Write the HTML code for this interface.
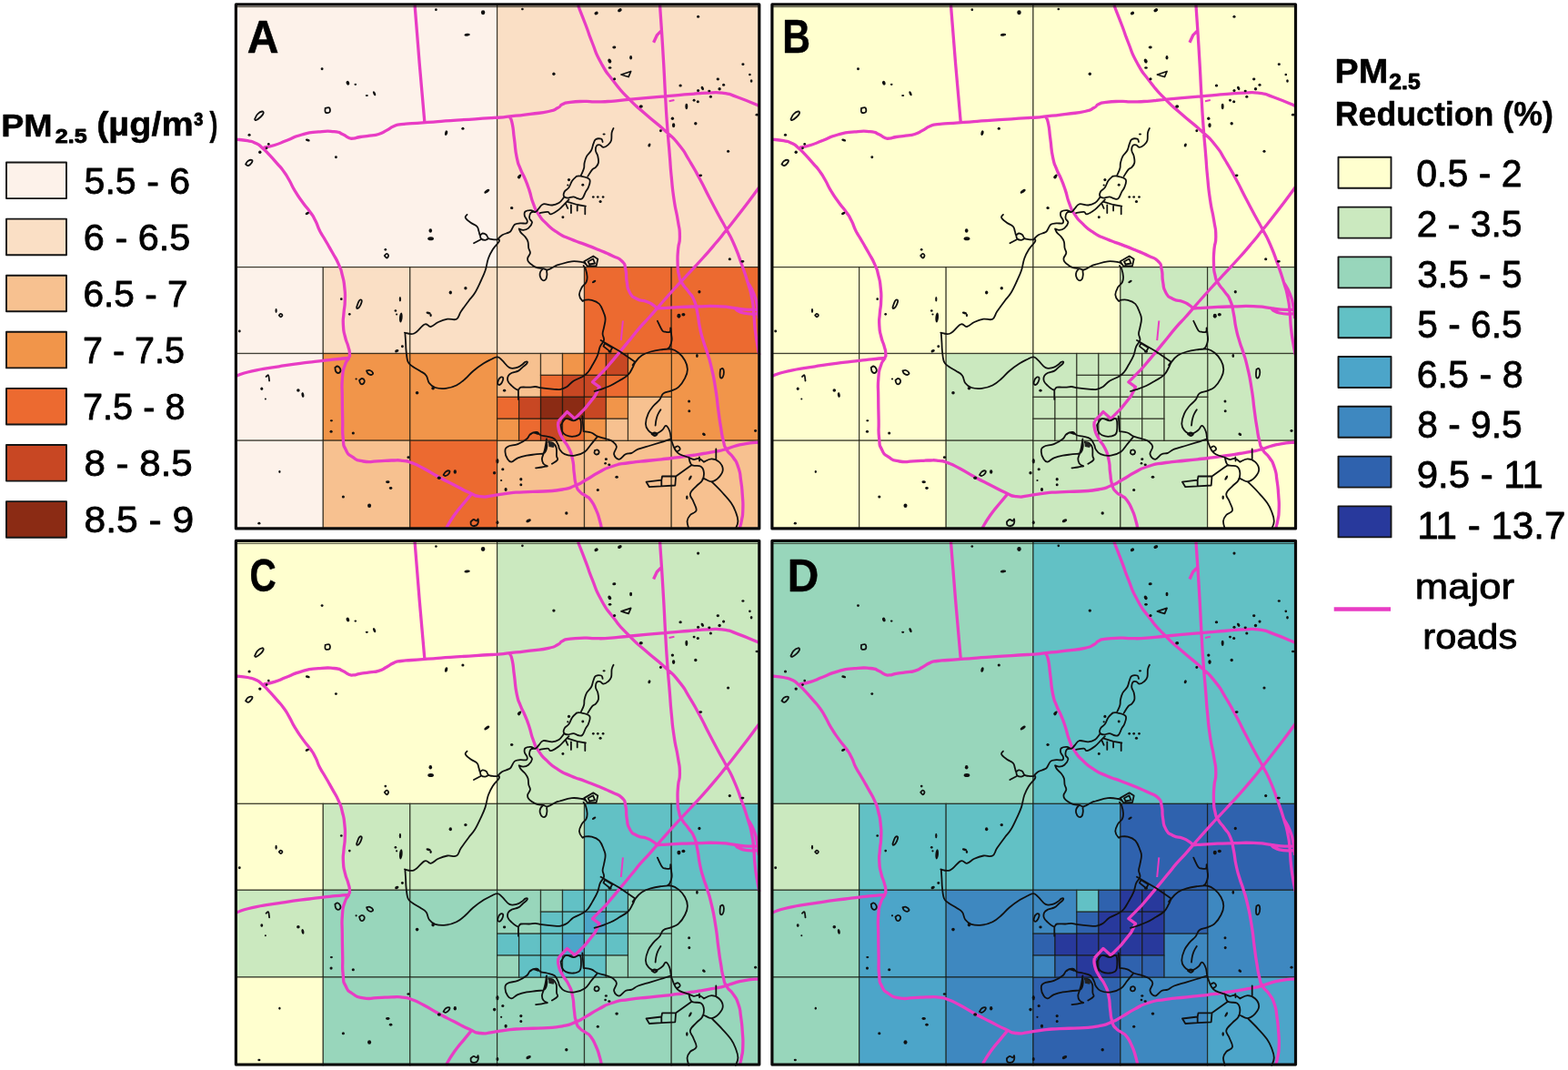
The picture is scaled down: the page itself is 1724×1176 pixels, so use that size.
<!DOCTYPE html>
<html lang="en"><head><meta charset="utf-8"><title>PM2.5 maps</title><style>
html,body{margin:0;padding:0;background:#fff;}
body{width:1724px;height:1176px;overflow:hidden;}
svg{display:block;}
text{font-family:"Liberation Sans",sans-serif;fill:#000;}
</style></head><body>
<svg width="1724" height="1176" viewBox="0 0 1724 1176" role="img" aria-label="PM2.5 concentration and reduction maps">
<defs>
<g id="map">
<path d="M1325 111.2L1330.8 110M1274.3 352.5L1272.2 374.2" fill="none" stroke="#e83cc4" stroke-width="2"/>
<path d="M879.3 162C883.3 161.2 882.8 162.1 891.3 159.5C899.9 156.9 895 158 905 154.2C915 150.3 909.8 151.1 921.3 148C932.9 144.9 927.9 146 939.6 144.9C951.4 143.8 947.9 143.9 956.6 144.7C965.4 145.5 960.8 145.2 966 147.4C971.2 149.6 968.4 149.6 972.4 151.2C976.4 152.7 973.7 152.3 978 152.1C982.3 151.9 979.4 151.5 985.3 150.5C991.2 149.5 988.9 150.1 995.7 149.1C1002.4 148.1 999.4 149.4 1005.7 147.5C1011.9 145.6 1008.8 146.4 1014.3 143.4C1019.9 140.5 1016.9 141 1022.3 138.8C1027.7 136.5 1023.9 137.7 1030.5 136.7C1037.2 135.7 1032.6 136.5 1042.3 135.7C1052.1 135 1043.4 135.6 1059.8 134.4C1076.1 133.2 1068 133.6 1091.3 132.1C1114.6 130.5 1109.3 131.1 1129.6 129.7C1150 128.2 1138.1 129.1 1152.3 127.6C1166.5 126.2 1158.9 127 1172.3 125.3C1185.7 123.6 1182.5 124.7 1192.6 122.5C1202.8 120.2 1197.5 121.2 1202.7 118.6C1207.8 116 1203.5 116.7 1208 114.6C1212.5 112.5 1208.3 113.4 1216.2 112.4C1224.1 111.3 1222.5 111.6 1231.7 111.4C1240.9 111.2 1235.1 111.7 1243.8 111.8C1252.4 111.8 1244.6 112.3 1257.7 111.5C1270.7 110.7 1263.1 111.1 1283 109.2C1302.9 107.4 1296.4 107.9 1317.3 106.1C1338.2 104.2 1328.9 105 1345.7 103.7C1362.5 102.4 1354.5 102.5 1367.7 102.1C1380.8 101.7 1374.2 100.9 1385 102.4C1395.9 104 1387.2 102.1 1400.2 106.8C1413.2 111.5 1416.1 113.2 1424 116.4M849 153.2C853.2 153.7 854.4 153.3 861.6 154.7C868.8 156.2 865.2 154.9 870.7 157.5C876.1 160.1 872.9 158.3 878 162.7C883.1 167 880.7 165 886 170.6C891.3 176.3 889 173.9 894 179.6C899 185.4 896.5 181.7 901 187.9C905.5 194 903.1 190.7 907.4 198C911.6 205.3 908.7 201.5 913.7 209.8C918.7 218.1 916.8 215 922.4 222.8C928 230.6 925.8 226.5 930.5 233.2C935.2 239.8 932.8 236 936.3 242.8C939.8 249.6 937.3 246.4 941 253.7C944.8 260.9 943 256.8 947.5 264.7C952.1 272.5 949.9 268.8 954.7 277.3C959.4 285.9 958 281.9 961.7 290.3C965.4 298.8 963.7 294.1 965.8 302.7C968 311.2 967.2 306.8 968.2 316C969.1 325.3 969 321 968.7 330.4C968.5 339.7 968.1 335 967.4 344C966.8 353 966.3 348.6 966.8 357.3C967.2 366 967 362.3 968.8 370C970.6 377.8 970.5 374.3 972.2 380.6C973.8 386.8 973.7 384.3 973.8 388.7C973.9 393.2 974.3 389.6 972.5 394C970.7 398.4 970.6 394.7 968.4 402.1C966.1 409.4 966.7 404.4 965.8 416C964.9 427.5 965.6 421.8 965.7 436.7C965.8 451.6 965.8 445.7 966.1 460.7C966.4 475.7 965.4 470.5 966.6 481.6C967.7 492.7 966.1 487.1 969.5 494C972.9 500.8 970.4 497.8 976.8 502.2C983.2 506.5 979.5 505.4 988.7 507C997.8 508.6 993.9 507.3 1004.3 506.9C1014.8 506.6 1010.7 506.2 1020 506C1029.3 505.8 1024.7 505.4 1032.2 506.3C1039.8 507.3 1034.9 506 1042.7 508.9C1050.4 511.8 1045.9 510 1055.5 515C1065 520.1 1060.3 518 1071.3 524C1082.4 530 1077.2 527.2 1088.7 533C1100.1 538.9 1096.1 537.3 1105.7 541.5C1115.2 545.7 1109.1 544.6 1117.3 545.7C1125.5 546.8 1120.7 546 1130.3 544.8C1140 543.7 1134.9 543.6 1146.3 542.3C1157.8 540.9 1151 541.6 1164.7 540.8C1178.3 540.1 1173 540.9 1187.3 540C1201.7 539 1196.3 540 1207.7 538C1219.1 536 1212.7 537.4 1221.5 533.8C1230.3 530.3 1225.3 532.2 1234 527.3C1242.7 522.5 1237.7 524.4 1247.5 519.3C1257.3 514.3 1251.9 515.8 1263.3 512.2C1274.7 508.6 1267.8 510.6 1281.7 508.5C1295.6 506.4 1289.4 507.7 1305 506C1320.6 504.3 1314.4 505.2 1328.3 503.5C1342.2 501.8 1335.2 502.7 1346.7 501C1358.1 499.3 1352.9 500.1 1362.7 498.5C1372.4 496.9 1368 497.7 1376 496.2C1384 494.6 1379.8 495.7 1386.7 493.8C1393.6 491.9 1389.5 492.5 1396.7 490.5C1403.9 488.5 1399.1 489.4 1408.2 487.9C1417.3 486.4 1418.7 486.6 1424 486M1045.5 6L1050.5 68.7L1056.3 134.8M1149.7 128.3C1150.7 131 1151 128 1152.7 136.3C1154.4 144.5 1153.2 140.9 1154.9 153C1156.5 165.1 1155.3 161.8 1157.5 172.6C1159.8 183.5 1158.6 177.6 1161.6 185.6C1164.7 193.7 1163.5 189 1166.7 196.7C1169.9 204.5 1168.2 199.8 1171.3 208.9C1174.3 217.9 1172.3 214.9 1175.8 223.8C1179.2 232.7 1176.6 228.1 1181.6 235.5C1186.5 243 1183.7 239.4 1190.6 246.1C1197.6 252.8 1193.4 249.9 1202.4 255.6C1211.3 261.3 1207.2 258.7 1217.5 263.1C1227.7 267.5 1223.2 265.1 1233.2 268.9C1243.2 272.7 1237.8 270.5 1247.5 274.5C1257.2 278.5 1253.8 276.8 1262.3 281C1270.9 285.2 1268.2 282.1 1273.2 287C1278.1 291.9 1275.3 288.3 1277.2 295.8C1279 303.4 1277.1 301.1 1278.6 309.7C1280.2 318.2 1278.2 315.2 1281.8 321.5C1285.4 327.7 1283.3 325.1 1289.5 328.5C1295.7 331.8 1294.3 329.2 1300.3 331.5C1306.4 333.8 1303.9 332.9 1307.7 335.4C1311.4 337.9 1310.4 337.8 1311.7 339M1225 6C1227.8 13.2 1228.2 13.8 1233.4 27.5C1238.6 41.1 1235 33.1 1240.6 47C1246.2 60.8 1242.5 55 1250.2 69C1257.9 83 1253.9 76.1 1263.8 89C1273.8 101.9 1268.4 95.7 1280 107.7C1291.6 119.7 1285.1 113 1298.7 125C1312.2 137 1308.2 132.2 1320.7 143.7C1333.1 155.1 1327.1 148.4 1336 159.3C1344.9 170.3 1339.7 164 1347.4 176.5C1355 189.1 1351.8 183.7 1359 197C1366.2 210.3 1362.2 203.5 1369 216.5C1375.8 229.5 1372.9 224 1379.3 236C1385.8 247.9 1382.5 241.3 1388.3 252.3C1394.1 263.3 1391.2 256.4 1396.7 269C1402.1 281.6 1399.8 276.3 1404.7 290C1409.6 303.7 1407.6 297.6 1411.4 310C1415.1 322.5 1413.8 316 1416 327.3C1418.3 338.6 1417 332.9 1418.2 344C1419.3 355.1 1418.3 349.8 1419.5 360.7C1420.7 371.5 1420.1 366.7 1421.7 376.5C1423.3 386.3 1423.4 385.5 1424.2 390M1411.7 310.7C1413.9 314.8 1414.8 314.1 1418.2 322.9C1421.7 331.8 1420.2 328.2 1422 337.2C1423.8 346.2 1423 345.7 1423.5 350M1315 6C1315.6 15.4 1315.5 13.2 1316.9 34.1C1318.2 55 1317.6 44.7 1319 68.7C1320.4 92.6 1319.6 81.5 1321 106C1322.4 130.4 1321.7 120.8 1323.3 142C1324.9 163.1 1324.2 151.8 1325.6 169.5C1327.1 187.2 1326 178.5 1327.7 195.1C1329.3 211.8 1328.2 203.7 1330.5 219.4C1332.8 235.1 1332.6 228.9 1334.7 242.3C1336.8 255.8 1336.7 249.2 1336.8 259.7C1336.9 270.1 1335.8 263.7 1335 273.7C1334.3 283.7 1334.2 280 1334.5 289.7C1334.8 299.4 1334.3 295.5 1336 302.7C1337.6 309.9 1336 305.5 1339.5 311.4C1342.9 317.3 1341.9 314 1346.3 320.4C1350.7 326.7 1349.3 322.3 1352.7 330.3C1356 338.3 1354.2 334.2 1356.3 344.3C1358.4 354.5 1356.8 350.2 1359 360.7C1361.2 371.1 1360.3 366.7 1363 375.7C1365.7 384.7 1364.1 378.1 1367 387.6C1369.9 397.1 1368.6 391 1371.7 404.4C1374.8 417.7 1373.7 412.1 1376.2 427.7C1378.7 443.3 1377.3 437.1 1379.2 451C1381.1 464.9 1380 458.2 1381.9 469.3C1383.7 480.4 1382.5 476 1384.7 484.3C1386.8 492.7 1384.7 488.1 1388.4 494.3C1392 500.6 1391.4 496.6 1395.7 503C1400 509.5 1398.4 505.4 1401.2 513.7C1404 522 1402.5 517.8 1404 528C1405.5 538.2 1404.9 533.7 1405.7 544.3C1406.4 555 1406.5 550.8 1406.2 560C1405.9 569.2 1406.1 565 1404.8 572C1403.6 579 1403.3 578 1402.5 581M1316.7 33.7L1311.7 38.7L1308 46.7M1311.7 339C1318.2 338.6 1316.9 338.5 1331.3 337.8C1345.8 337.1 1339.3 337.3 1355 336.9C1370.7 336.5 1364.9 336.2 1378.3 336.6C1391.8 337.1 1385.4 337.1 1395.4 338.3C1405.3 339.4 1398.6 339.4 1408.2 340.1C1417.7 340.8 1418.7 340.2 1424 340.3M1396.7 338.2C1400 340.1 1397.6 341.8 1406.7 344C1415.8 346.2 1418.2 344.5 1424 344.8M1424.2 205.7C1420.2 211.1 1420.8 210.6 1412.2 222C1403.5 233.4 1406.5 229.6 1398.3 240C1390.2 250.4 1395 244.2 1387.7 253.3C1380.3 262.4 1384.7 257.4 1376.3 267.3C1368 277.2 1372 272.5 1362.7 283C1353.3 293.4 1356.9 289.4 1348.3 298.7C1339.8 307.9 1345.1 301.9 1337 310.7C1328.9 319.5 1332.2 315.8 1324 325C1315.8 334.2 1319.3 330.3 1312.3 338.3C1305.3 346.3 1309.3 342 1303 349C1296.7 356 1300.1 351.7 1293.4 359.4C1286.8 367.1 1291 362.5 1283.1 372C1275.2 381.6 1279.2 376.8 1269.8 388.1C1260.4 399.4 1259.8 400 1254.8 405.9M1254.8 405.9L1240.9 419.9L1248.5 425.4L1243.6 435.2L1232.5 449.1L1221.4 460.2L1213 452.6L1203.3 463M1203.3 463C1203.4 466 1202.1 465.5 1203.7 471.9C1205.3 478.4 1204.5 475.3 1208.2 482.2C1211.9 489.2 1211.3 485.2 1214.9 492.8C1218.5 500.5 1217 496.3 1219 505.2C1220.9 514.1 1219.4 510.3 1220.6 519.4C1221.9 528.5 1220.6 525.6 1222.7 532.6C1224.8 539.7 1223.5 536.4 1227 540.5C1230.6 544.6 1229.4 541.9 1233.3 544.9C1237.2 547.9 1235.1 544.6 1238.8 549.5C1242.5 554.5 1241.2 552.3 1244.5 559.7C1247.8 567 1246.6 564.6 1248.7 571.7C1250.8 578.8 1250.1 577.9 1250.8 581M849 413.3C854.9 411.5 851 411.3 866.6 407.8C882.3 404.3 875.1 406 896 402.8C916.9 399.6 908.5 400.8 929.3 398.2C950.1 395.6 943.3 396.4 958.3 394.9C973.3 393.3 969 394 974.3 393.5M1108 542.7C1105.3 545.9 1106.3 544.6 1100 552.3C1093.6 560.1 1095.8 556.4 1089 566C1082.2 575.6 1082.8 576 1079.7 581" fill="none" stroke="#e83cc4" stroke-width="3.3" stroke-linejoin="round" stroke-linecap="butt"/>
<path d="M1160.1 251.5C1161 251.8 1162.8 253 1164.8 252.9C1166.8 252.8 1168.4 252.5 1170.3 250.9C1172.2 249.3 1174.1 246.9 1174.4 244.7C1174.7 242.5 1171.9 242.2 1171.6 240C1171.3 237.8 1171.7 235.2 1173 233.8C1174.3 232.4 1177 233.2 1178 233M1034.3 365.7C1036.4 365.9 1040.3 368.3 1044.7 366.5C1049.1 364.7 1052.6 358 1056.3 356.5C1060 355 1060 359.5 1063 359C1066 358.5 1067.6 355.7 1071.3 354C1075 352.3 1077.3 351.4 1081.3 350.7C1085.3 350 1088.3 352.4 1091.3 350.7C1094.3 349 1093.6 346.3 1096.3 342.3C1099 338.3 1101.7 334.7 1104.7 330.7C1107.7 326.7 1108.6 326.6 1111.3 322.3C1114 318 1115.7 314 1118 309C1120.3 304 1121.3 302.3 1123 297.3C1124.7 292.3 1124.6 288.7 1126.3 284C1128 279.3 1129 277.7 1131.3 274C1133.6 270.3 1136.8 268 1138 265.7C1139.2 263.4 1137.6 263 1137.5 262.3M1034.8 366C1034.9 368.2 1035.3 373 1035.5 377C1035.7 381 1035.5 381.9 1036 386C1036.5 390.1 1036.6 394.4 1038 397.7C1039.4 401 1040.3 400.7 1043 402.7C1045.7 404.7 1048.3 405.7 1051.3 407.7C1054.3 409.7 1056 410 1058 412.7C1060 415.4 1059.3 418.3 1061.3 421C1063.3 423.7 1064.3 424.8 1068 426C1071.7 427.2 1075 427.3 1079.7 426.8C1084.4 426.3 1087 425.7 1091.3 423.5C1095.6 421.3 1097.6 419.2 1101.3 416C1105 412.8 1105.7 411 1109.7 407.7C1113.7 404.4 1117.4 401.8 1121.3 399.3C1125.2 396.8 1126.4 396.4 1129.4 395C1132.4 393.6 1133.9 392 1136.4 392.3C1138.9 392.6 1139.3 394 1141.9 396.4C1144.5 398.8 1146.5 402.6 1149.6 404.1C1152.7 405.6 1154.6 404.7 1157.2 404.1C1159.8 403.5 1160.8 402.6 1162.8 401.3C1164.8 400 1165.7 398.5 1167 397.8C1168.3 397.1 1168.8 397.2 1169.1 397.6C1169.4 398 1169.4 398.7 1168.4 399.9C1167.4 401.1 1166 401.9 1164.2 403.4C1162.4 404.9 1161.7 406.3 1159.3 407.6C1156.9 408.9 1154.6 408.6 1152.4 409.7C1150.2 410.8 1149.1 411.3 1148.2 413.1C1147.3 414.9 1147.1 416.6 1147.8 418.7C1148.5 420.8 1149.5 421.6 1151.7 423.6C1153.9 425.6 1156.5 428.1 1158.6 428.5C1160.7 428.9 1159.6 426.3 1162.1 425.7C1164.6 425.1 1168 425.8 1171.2 425.7C1174.4 425.6 1175.3 424.9 1178.1 425C1180.9 425.1 1180.9 425.8 1185.1 426.4C1189.3 427 1194.8 427.5 1199 427.8C1203.2 428.1 1203.1 428.4 1205.9 427.8C1208.7 427.2 1210.1 426.8 1212.9 425C1215.7 423.2 1216.4 420.9 1219.9 418.7C1223.4 416.5 1227.1 415.7 1230.3 413.8C1233.5 411.9 1233.8 411.5 1235.9 409C1238 406.5 1238.6 404.9 1240.7 401.3C1242.8 397.7 1244.6 395 1246.3 390.9C1248 386.8 1247.8 384.3 1249.2 380.9C1250.6 377.5 1252.8 376.7 1253.4 373.9C1254 371.1 1252 369.8 1252 367C1252 364.2 1252.8 363.3 1253.4 360C1254 356.7 1255 353.9 1255 350.7C1255 347.5 1254.6 347.3 1253.3 344C1252 340.7 1251 336.8 1248.3 334C1245.6 331.2 1243.3 330.6 1240 329.8C1236.7 329 1234.1 329.6 1232 329.8C1229.9 330 1230.8 331.9 1229.7 330.7C1228.6 329.5 1226.4 326.9 1226.3 324C1226.2 321.1 1227.5 318.8 1229 316C1230.5 313.2 1232.8 312.4 1234 310C1235.2 307.6 1235.1 306.9 1235 304C1234.9 301.1 1234.1 298.1 1233.3 295.7C1232.5 293.3 1231.5 292.7 1231 292M1159.3 428.5L1159.3 438.9M1136.3 263.5C1135.2 263.4 1132.8 263.4 1130.8 263.1C1128.8 262.8 1127.9 263 1126.5 262C1125.1 261 1125.3 259.1 1124 258C1122.7 256.9 1121.4 256.4 1120 256.5C1118.6 256.6 1118 258.7 1117.2 258.3C1116.4 257.9 1116.6 256.2 1115.9 254.3C1115.2 252.4 1115.6 250.7 1113.8 248.8C1112 246.9 1109.5 246.6 1107 244.7C1104.5 242.8 1102 241.1 1101.2 239.3C1100.4 237.5 1102.6 236.6 1102.9 235.9M1117.5 263.5L1110.4 267.2M1117.2 258.3C1117.5 259.1 1117.3 261.4 1118.5 262.5C1119.7 263.6 1121.4 263.9 1123 263.8C1124.6 263.7 1125.8 262.4 1126.5 262M1136.3 263.1C1137.4 262.1 1139.3 259.8 1141.7 258.3C1144.1 256.8 1146.6 256.5 1148.5 255.6C1150.4 254.7 1149.8 255.4 1151.2 253.6C1152.6 251.8 1153.3 248.4 1155.3 246.8C1157.3 245.2 1158.8 245.7 1161.4 245.4C1164 245.1 1166.7 246.1 1168.2 245.4C1169.7 244.7 1169.3 243.6 1168.9 242C1168.5 240.4 1166.6 239.1 1166.2 237.2C1165.8 235.3 1165.5 233.7 1166.9 232.5C1168.3 231.3 1170.7 231 1173 231.1C1175.3 231.2 1176.4 233.3 1178.2 232.9C1180 232.5 1180.1 230.9 1181.8 229.2C1183.5 227.5 1183.8 225 1186.7 224.3C1189.6 223.6 1193.1 225.7 1196.5 225.5C1199.9 225.3 1201.3 224.8 1203.9 223.1C1206.5 221.4 1208.3 218.1 1209.4 216.9M1183.1 234.1C1184.8 233.9 1189.2 232.7 1191.6 232.9C1194 233.1 1192.8 235.8 1195.3 235.3C1197.8 234.8 1201 232.6 1203.9 230.4C1206.8 228.2 1207.8 226.5 1210 224.3C1212.2 222.1 1213.9 220.4 1214.9 219.4M1160.1 251.5C1160.5 252.3 1160.7 253.8 1162.1 255.6C1163.5 257.4 1165.3 258.4 1166.9 260.4C1168.5 262.4 1169.2 263.4 1169.9 265.8C1170.6 268.2 1170.1 270.1 1170.6 272.6C1171.1 275.1 1172.5 275.9 1172.3 278.1C1172.1 280.3 1170 281.6 1169.6 283.5C1169.2 285.4 1169.2 286 1170.3 287.6C1171.4 289.2 1173 290.3 1175 291.7C1177 293.1 1178.2 293.7 1180.5 294.4C1182.8 295.1 1184.3 294.7 1186.6 295.1C1188.9 295.5 1189.3 297 1192 296.4C1194.7 295.8 1197.5 293.4 1200 292.3C1202.5 291.2 1201.1 291.7 1204.7 290.7C1208.3 289.7 1213 287.8 1218 287.3C1223 286.8 1226.7 287.7 1229.7 288.2C1232.7 288.7 1232.3 289.6 1233 290M1186.6 295.1C1186 295.9 1184.2 297.2 1183.5 299C1182.8 300.8 1182.8 302.2 1183.3 304C1183.8 305.8 1184.8 307.4 1186 308C1187.2 308.6 1188.5 308.2 1189.5 307C1190.5 305.8 1190.6 303.9 1190.8 302C1191 300.1 1190.3 298.6 1190.5 297.5C1190.7 296.4 1191.7 296.6 1192 296.4M1223.5 193.7C1224.5 193.7 1225.6 193 1228.4 193.7C1231.2 194.4 1236 194.9 1237.6 197.3C1239.2 199.7 1237.2 203.2 1236.3 205.9C1235.4 208.6 1234.6 208.3 1233.3 210.8C1232 213.3 1231.3 216.7 1229.6 218.2C1227.9 219.7 1226.7 218.6 1224.7 218.2C1222.7 217.8 1222 216.4 1219.8 216.3C1217.6 216.2 1215.8 217.7 1213.7 217.6C1211.6 217.5 1210.1 217.1 1209.4 215.7C1208.7 214.3 1208.9 212.8 1210 210.8C1211.1 208.8 1213.2 208.3 1214.9 205.9C1216.6 203.5 1216.9 201 1218.6 198.6C1220.3 196.2 1222.5 194.7 1223.5 193.7M1235.7 193.7C1236.7 192.2 1238.9 188.3 1240.6 186.3C1242.3 184.3 1243 185.4 1244.3 183.9C1245.6 182.4 1246.8 181.5 1247.3 179C1247.8 176.5 1247.3 174.3 1246.7 171.6C1246.1 168.9 1244.5 167.8 1244.3 165.5C1244.1 163.2 1244.5 161.2 1245.5 160C1246.5 158.8 1247.7 159 1249.2 159.4C1250.7 159.8 1251.2 161.8 1252.9 161.8C1254.6 161.8 1256.1 160.9 1257.8 159.4C1259.5 157.9 1260.6 157.2 1261.4 154.5C1262.2 151.8 1261.5 148.6 1262 145.9C1262.5 143.2 1263.5 142 1263.9 141M1228.4 192.4C1229 190.9 1230.7 187.8 1231.4 185.1C1232.1 182.4 1231.4 181.7 1232 179C1232.6 176.3 1233 174.3 1234.5 171.6C1236 168.9 1237.9 168.2 1239.4 165.5C1240.9 162.8 1240.8 160.6 1241.8 158.2C1242.8 155.8 1242.6 154.4 1244.3 153.3C1246 152.2 1248.9 152.2 1250.4 152.7C1251.9 153.2 1251.7 155.3 1252 156M1213.7 221.8L1224 225L1233.3 226.7M1211.5 224L1213.7 229M1217.3 225.5L1217.3 234.1M1224.1 226.7L1224.1 231.6M1232.7 226.7L1232.7 235.3M1231.7 287.3L1241.7 281.5L1246.7 284.8L1245 292.3L1235 292.3L1231.7 287.3M1236 287.5L1241.5 284.5L1243.5 289.5L1237.5 290.5L1236 287.5M1254.4 377.2L1262.6 382.2L1260.2 386.4L1252.9 380.6L1254.4 377.2M1250 374L1270.6 386L1287.6 397.8M1287.6 397.8L1285 401.2M1243 430C1244.2 429.6 1245.7 429.4 1249.2 428.2C1252.7 427 1256.1 425.9 1260.3 424C1264.5 422.1 1266.2 420.9 1270.1 418.5C1274 416.1 1276.8 415.1 1279.8 412.2C1282.8 409.3 1283.3 406.9 1285 404C1286.7 401.1 1286.2 400.3 1288.2 397.6C1290.2 394.9 1291.9 392.8 1295.2 390.6C1298.5 388.4 1300.7 387.7 1304.9 386.5C1309.1 385.3 1311.5 385 1316 384.4C1320.5 383.8 1323.3 383 1327.2 383.7C1331.1 384.4 1332.4 385.3 1335.5 387.8C1338.6 390.3 1340.5 392.6 1342.5 396.2C1344.5 399.8 1345.3 402 1345.3 405.9C1345.3 409.8 1344.5 411.8 1342.5 415.7C1340.5 419.6 1338.6 422.6 1335.5 425.4C1332.4 428.2 1330.5 428.2 1327.2 429.6C1323.9 431 1321.3 430.4 1318.8 432.4C1316.3 434.4 1316.8 436.6 1314.6 439.4C1312.4 442.2 1310.2 443.2 1307.7 446.3C1305.2 449.4 1303.8 450.8 1302.1 454.7C1300.4 458.6 1299.3 462.2 1299.3 465.8C1299.3 469.4 1300.1 470.6 1302.1 472.8C1304.1 475 1306 476.9 1309.1 476.9C1312.2 476.9 1314.9 474.6 1317.4 472.8C1319.9 471 1319.9 467.6 1321.6 467.9C1323.3 468.2 1324.7 471.3 1325.8 474.2C1326.9 477.1 1326.7 480.1 1327.2 482.5C1327.7 484.9 1327.4 483.6 1328.3 486C1329.2 488.4 1330 491.6 1331.7 494.3C1333.4 497 1333.7 497.6 1336.7 499.3C1339.7 501 1344.7 502 1346.7 502.7M1312.3 352.8C1313.3 354.8 1315.7 360.6 1317.4 363C1319.1 365.4 1319.1 364.4 1320.8 364.7C1322.5 365 1324.7 365.6 1325.9 364.7C1327.1 363.8 1326.4 359.7 1326.7 360.4C1327 361.1 1327.3 365.3 1327.6 368C1327.9 370.7 1328.3 371.4 1328 374C1327.7 376.6 1326.8 378.9 1325.9 380.8C1325 382.7 1323.8 382.9 1323.3 383.4M1315.8 450.2C1315.1 451.4 1313.5 453.7 1312.5 456C1311.5 458.3 1311.3 459.5 1310.8 461.8C1310.3 464.1 1310.2 466.5 1310 467.7M1306 477C1306.6 476.7 1308 475.5 1309.2 475.5C1310.4 475.5 1312 476.3 1312 477C1312 477.7 1310.4 479 1309.2 479C1308 479 1306.6 477.4 1306 477M1206.1 467.2C1207.2 465.8 1208.8 461.2 1211.6 460.2C1214.4 459.2 1216.9 462.3 1220 462.3C1223.1 462.3 1225.2 458.9 1226.9 460.2C1228.6 461.5 1228.3 465.3 1228.3 468.6C1228.3 471.9 1228.6 474.7 1226.9 476.9C1225.2 479.1 1223.1 479.4 1220 479.7C1216.9 480 1214.1 479.4 1211.6 478.3C1209.1 477.2 1208.6 476.4 1207.5 474.2C1206.4 472 1206.4 468.6 1206.1 467.2M1229.7 457.5L1230.4 466L1231.1 474.2M1231.1 474.2C1232.8 474.5 1236.4 474.4 1239.5 475.5C1242.6 476.6 1243.1 478.3 1246.4 479.7C1249.7 481.1 1252.9 481.4 1256.2 482.5C1259.5 483.6 1260.9 483.6 1263.1 485.3C1265.3 487 1267 488.1 1267.3 490.9C1267.6 493.7 1263.9 496.4 1264.5 499.2C1265.1 502 1267.6 504.8 1270.1 504.8C1272.6 504.8 1274.3 500.6 1277.1 499.2C1279.9 497.8 1281.2 498.9 1284 497.8C1286.8 496.7 1286.8 495.4 1291 493.7C1295.2 492 1299.3 491.2 1304.9 489.5C1310.5 487.8 1314.3 486.7 1318.8 485.3C1323.3 483.9 1325.5 483.1 1327.2 482.5M1246.4 479.7C1245 481.4 1242.3 484.8 1239.5 488.1C1236.7 491.4 1236.1 493.9 1232.5 496.4C1228.9 498.9 1225.9 500 1221.4 500.6C1216.9 501.2 1213.5 500.6 1210.2 499.2C1206.9 497.8 1206.1 495.6 1204.7 493.7C1203.3 491.8 1204.4 491.7 1203.3 489.5C1202.2 487.3 1201.6 484.5 1199.1 482.5C1196.6 480.5 1193.8 480.5 1190.7 479.7C1187.6 478.9 1186 479.3 1183.8 478.3C1181.6 477.3 1181.8 475.2 1179.6 474.9C1177.4 474.6 1174.8 475.4 1172.6 476.9C1170.4 478.4 1171.3 480.3 1168.5 482.5C1165.7 484.7 1162.9 486.4 1158.7 488.1C1154.5 489.8 1150.4 489.2 1147.6 490.9C1144.8 492.6 1144.8 493.6 1144.8 496.4C1144.8 499.2 1146.2 502.6 1147.6 504.8C1149 507 1149.6 507.9 1151.8 507.6C1154 507.3 1155.4 504.8 1158.7 503.4C1162 502 1164.3 501.4 1168.5 500.6C1172.7 499.8 1175.7 499.8 1179.6 499.2C1183.5 498.6 1185.8 499.5 1188 497.8C1190.2 496.1 1190.3 493.7 1190.7 490.9C1191.1 488.1 1190.1 485.3 1190 483.9M1190.4 482.5C1190.1 484.5 1189.4 489.5 1188.7 492.7C1188 495.9 1187.7 496.3 1187 498.7C1186.3 501.1 1185.3 502.4 1185.3 504.6C1185.3 506.8 1185.8 508.2 1187 509.7C1188.2 511.2 1190.4 511.8 1191.2 512.3M1178.5 514.4C1179.8 514.2 1182.5 513.9 1185 513.5C1187.5 513.1 1190 512.5 1191.2 512.3M1192.5 486C1193.5 486.2 1195.8 485.8 1197.5 487C1199.2 488.2 1200.2 489.2 1201 492C1201.8 494.8 1201.1 498.5 1201.4 501.2C1201.7 503.9 1203.3 503.8 1202.3 505.5C1201.3 507.2 1197.5 508.9 1196.3 509.7M1172.5 477.5C1173.2 477.1 1174.3 475.6 1176 475.5C1177.7 475.4 1180 476.7 1181 477M1300 529.7L1316.7 527.7L1317.5 523.5L1332.5 523.5L1331.7 533.5L1316.7 534.3L1303.3 535.2L1300 529.7M1316.7 527.7L1316.7 534.3M1332.5 523.5L1350 511M1346.7 502.7C1347.4 504.4 1347.3 509 1350 511C1352.7 513 1357.3 511 1360 512.7C1362.7 514.4 1363 516.3 1363.3 519.3C1363.6 522.3 1363.4 524.7 1361.7 527.7C1360 530.7 1357.7 531.3 1355 534.3C1352.3 537.3 1349 539.4 1348.3 542.7C1347.6 546 1350.4 547.3 1351.7 551C1353 554.7 1355.7 558 1355 561C1354.3 564 1350.3 563.7 1348.3 566C1346.3 568.3 1345.3 569.7 1345 572.7C1344.7 575.7 1346.4 579.3 1346.7 581M1363.3 507.7C1365 507 1368.4 504.3 1371.7 504.3C1375 504.3 1377.5 505.4 1380 507.7C1382.5 510 1384.2 512.7 1384.2 516C1384.2 519.3 1382.5 521.6 1380 524.3C1377.5 527 1375 529 1371.7 529.3C1368.4 529.6 1365.3 526.3 1363.3 526C1361.3 525.7 1362 527.4 1361.7 527.7M1371.7 529.3C1374 531.6 1379 536.3 1383.3 541C1387.6 545.7 1390.3 548.4 1393.3 552.7C1396.3 557 1396.8 558.7 1398.3 562.7C1399.8 566.7 1400.8 569 1400.8 572.7C1400.8 576.4 1398.8 579.3 1398.3 581M1376.7 493.5L1376.7 504.5M1358.3 502.5L1358.5 506.5M1331 492C1331.8 491.7 1333.8 490.1 1335 490.5C1336.2 490.9 1337.4 492.9 1337 494C1336.6 495.1 1334.2 496.4 1333 496C1331.8 495.6 1331.4 492.8 1331 492M1346.7 502.7C1347.8 503.2 1349.7 504.7 1352 505C1354.3 505.3 1355.7 503.5 1358 504C1360.3 504.5 1362.2 507 1363.3 507.7M1138 416.5C1138.5 416.1 1139.6 414.4 1140.5 414.3C1141.4 414.2 1142.5 414.6 1142.6 415.8C1142.7 417 1142 419.1 1141.2 420.5C1140.4 421.9 1139.4 422.9 1138.5 423C1137.6 423.1 1136.7 422.3 1136.6 421C1136.5 419.7 1137.7 417.4 1138 416.5M1381.5 406C1382 405.8 1383.2 404.4 1384 405C1384.8 405.6 1385.3 407.1 1385.3 409C1385.3 410.9 1384.8 413.3 1384 414.5C1383.2 415.7 1382.1 415.8 1381.5 415C1380.9 414.2 1381 412.3 1381 410.5C1381 408.7 1381.4 406.9 1381.5 406M1243.5 495C1244.1 494.9 1245.6 494 1246.5 494.5C1247.4 495 1248.2 496.5 1248 497.5C1247.8 498.5 1246.5 499.4 1245.5 499.5C1244.5 499.6 1243.4 498.9 1243 498C1242.6 497.1 1243.4 495.6 1243.5 495M869.5 131C870.1 129.9 870.9 127.2 872.5 125.5C874.1 123.8 876.2 122.7 877.5 122.5C878.8 122.3 879.3 123.3 879 124.5C878.7 125.7 877.6 127 876 128.5C874.4 130 872.3 131.5 871 132C869.7 132.5 869.8 131.2 869.5 131M859.5 180.5C860 179.8 860.6 177.9 862 177C863.4 176.1 865.7 175.6 866.5 176C867.3 176.4 866.8 177.8 866 179C865.2 180.2 863.8 181.7 862.5 182C861.2 182.3 860.1 180.8 859.5 180.5M947 119C947.9 118.9 950.5 117.6 951.5 118.5C952.5 119.4 952.6 122.3 951.8 123.3C951 124.3 948.3 124.4 947.3 123.5C946.3 122.6 947.1 119.9 947 119M1012.2 281C1012.7 280.6 1013.6 278.8 1014.5 278.8C1015.4 278.8 1016.5 280.1 1016.5 281C1016.5 281.9 1015.4 283.5 1014.5 283.5C1013.6 283.5 1012.7 281.5 1012.2 281M981.5 337.5C982 336.2 983 332.6 984 331C985 329.4 985.9 329.3 986.5 329.5C987.1 329.7 987.4 330.4 987 332C986.6 333.6 985.5 336.1 984.5 337.5C983.5 338.9 982.6 339 982 339C981.4 339 981.6 337.8 981.5 337.5M957.8 404C958.3 403.7 959.4 402.3 960.5 402.5C961.6 402.7 962.7 403.8 963.3 405C963.9 406.2 964 407.5 963.5 408.5C963 409.5 962 410.1 961 410C960 409.9 959.1 409.2 958.5 408C957.9 406.8 957.9 404.8 957.8 404M984.5 418C985.1 417.6 986.2 416 987.3 416C988.4 416 989.7 416.9 990 418C990.3 419.1 989.8 420.7 989 421.5C988.2 422.3 986.9 422.5 986 421.8C985.1 421.1 984.8 418.8 984.5 418M992.5 407.5C993.2 407.4 994.6 406.5 996 407C997.4 407.5 999.2 409 999.5 410C999.8 411 998.6 411.9 997.5 412C996.4 412.1 995 411.4 994 410.5C993 409.6 992.8 408.1 992.5 407.5M1077 522C1077.5 521.3 1078.2 519.4 1079.5 518.5C1080.8 517.6 1082.8 517.1 1083.5 517.5C1084.2 517.9 1083.8 519.4 1083 520.5C1082.2 521.6 1080.7 522.7 1079.5 523C1078.3 523.3 1077.5 522.2 1077 522M1107 573.5C1107.6 573 1108.7 571.2 1110 571C1111.3 570.8 1112.5 572.6 1113.5 572.5C1114.5 572.4 1114.8 569.8 1115 570.5C1115.2 571.2 1115.3 574.5 1114.5 576C1113.7 577.5 1112.4 577.8 1111 578C1109.6 578.2 1108.3 577.9 1107.5 577C1106.7 576.1 1107.1 574.2 1107 573.5M896.2 346.5C896.6 346.2 897.3 344.8 898 344.8C898.7 344.8 899.8 345.8 899.8 346.5C899.8 347.2 898.7 348.3 898 348.3C897.3 348.3 896.6 346.9 896.2 346.5M1272.5 82L1283 78.5L1280.5 84.5L1277 83.5L1272.5 82M882 414C882.5 413.7 883.8 411.6 884.5 412.5C885.2 413.4 885.3 417.3 885.5 418.5" fill="none" stroke="#111" stroke-width="1.8" stroke-linejoin="round" stroke-linecap="round"/>
<path d="M1192.1 484.4L1199.7 488.5L1198 491.9L1192.9 491Z" fill="#222"/>
<g fill="#111"><ellipse cx="943.5" cy="75.8" rx="1.46" ry="1.46"/><ellipse cx="971.8" cy="91.2" rx="1.79" ry="2.46" transform="rotate(-20 971.8 91.2)"/><ellipse cx="980.2" cy="92.8" rx="1.34" ry="1.12"/><ellipse cx="992.7" cy="105" rx="1.57" ry="1.12"/><ellipse cx="1001" cy="102.8" rx="1.34" ry="2.69" transform="rotate(-25 1001 102.8)"/><ellipse cx="863.5" cy="148.2" rx="1.57" ry="1.57"/><ellipse cx="927.7" cy="154" rx="2.46" ry="1.34" transform="rotate(15 927.7 154)"/><ellipse cx="884.7" cy="158.3" rx="1.34" ry="1.34"/><ellipse cx="875.2" cy="167.3" rx="1.68" ry="1.68"/><ellipse cx="882.5" cy="162.8" rx="1.34" ry="1.34"/><ellipse cx="958.8" cy="172.8" rx="1.46" ry="1.46"/><ellipse cx="1068.8" cy="10.7" rx="1.34" ry="1.34"/><ellipse cx="1120.5" cy="13.7" rx="2.24" ry="2.46"/><ellipse cx="1163.8" cy="10" rx="1.34" ry="1.34"/><ellipse cx="1103" cy="38.2" rx="3.14" ry="1.46" transform="rotate(-8 1103 38.2)"/><ellipse cx="1198.3" cy="81.3" rx="1.68" ry="1.68"/><ellipse cx="1098.3" cy="141.2" rx="1.57" ry="1.57"/><ellipse cx="1080" cy="146.2" rx="1.57" ry="2.91" transform="rotate(15 1080 146.2)"/><ellipse cx="1160.5" cy="194.5" rx="1.34" ry="2.24" transform="rotate(30 1160.5 194.5)"/><ellipse cx="1245" cy="14.5" rx="2.24" ry="1.79" transform="rotate(-30 1245 14.5)"/><ellipse cx="1270.8" cy="11.2" rx="2.46" ry="1.79" transform="rotate(-30 1270.8 11.2)"/><ellipse cx="1357" cy="18.3" rx="1.57" ry="1.57"/><ellipse cx="1264.7" cy="52" rx="2.02" ry="1.46" transform="rotate(-10 1264.7 52)"/><ellipse cx="1283" cy="63.3" rx="1.46" ry="2.24"/><ellipse cx="1259.7" cy="67" rx="1.79" ry="2.46" transform="rotate(-30 1259.7 67)"/><ellipse cx="1260" cy="74.5" rx="1.79" ry="1.34"/><ellipse cx="1265" cy="86.7" rx="1.57" ry="1.57"/><ellipse cx="1406.3" cy="70.7" rx="1.57" ry="1.34"/><ellipse cx="1413.8" cy="82" rx="1.34" ry="1.34"/><ellipse cx="1415.5" cy="89" rx="1.34" ry="1.79"/><ellipse cx="1378.7" cy="87" rx="1.68" ry="1.46"/><ellipse cx="1385" cy="93.3" rx="1.57" ry="1.57"/><ellipse cx="1380.5" cy="97.7" rx="1.68" ry="1.68"/><ellipse cx="1337.5" cy="94" rx="1.68" ry="1.57"/><ellipse cx="1357" cy="99.5" rx="1.57" ry="1.57"/><ellipse cx="1361.7" cy="97" rx="1.46" ry="2.24" transform="rotate(-30 1361.7 97)"/><ellipse cx="1369.2" cy="100" rx="1.57" ry="1.34"/><ellipse cx="1370.8" cy="106.2" rx="1.57" ry="1.57"/><ellipse cx="1352.5" cy="110.3" rx="1.46" ry="1.46"/><ellipse cx="1356.7" cy="111.7" rx="1.57" ry="1.57"/><ellipse cx="1344.2" cy="117" rx="1.46" ry="3.14"/><ellipse cx="1294.2" cy="117" rx="2.02" ry="1.68"/><ellipse cx="1328.8" cy="130.3" rx="1.68" ry="1.68"/><ellipse cx="1330" cy="137.8" rx="1.68" ry="2.46"/><ellipse cx="1354.2" cy="135.7" rx="1.68" ry="1.68"/><ellipse cx="1315.8" cy="143.7" rx="1.46" ry="1.46"/><ellipse cx="1303.3" cy="159.5" rx="1.46" ry="2.02" transform="rotate(20 1303.3 159.5)"/><ellipse cx="1390" cy="166.2" rx="1.57" ry="1.57"/><ellipse cx="1421.7" cy="126.2" rx="1.79" ry="1.34"/><ellipse cx="1359.7" cy="192.8" rx="1.79" ry="1.34"/><ellipse cx="927.2" cy="234.5" rx="2.24" ry="1.34" transform="rotate(-25 927.2 234.5)"/><ellipse cx="1013.2" cy="274.3" rx="1.34" ry="1.34"/><ellipse cx="964.7" cy="328.7" rx="1.34" ry="1.34"/><ellipse cx="973.7" cy="345.3" rx="1.34" ry="1.34"/><ellipse cx="893" cy="341.5" rx="1.12" ry="2.46"/><ellipse cx="852.7" cy="364" rx="1.46" ry="1.46"/><ellipse cx="1029.3" cy="328.7" rx="1.12" ry="2.69"/><ellipse cx="1024.3" cy="341.5" rx="1.34" ry="1.34"/><ellipse cx="1025.5" cy="345.5" rx="1.12" ry="1.12"/><ellipse cx="1030.2" cy="349" rx="1.79" ry="5.6" transform="rotate(5 1030.2 349)"/><ellipse cx="1025.7" cy="385.7" rx="2.24" ry="1.57" transform="rotate(-25 1025.7 385.7)"/><ellipse cx="1031.8" cy="380.7" rx="1.46" ry="1.46"/><ellipse cx="1124.7" cy="210.2" rx="3.36" ry="1.57" transform="rotate(-35 1124.7 210.2)"/><ellipse cx="1152.2" cy="228.7" rx="1.57" ry="1.34"/><ellipse cx="1062.7" cy="253.5" rx="1.79" ry="2.24"/><ellipse cx="1063" cy="262.3" rx="3.36" ry="2.02"/><ellipse cx="1208.3" cy="238.7" rx="1.46" ry="1.46"/><ellipse cx="1101.3" cy="316.8" rx="1.68" ry="1.68"/><ellipse cx="1084.7" cy="321.5" rx="1.68" ry="2.02"/><ellipse cx="1060.5" cy="344" rx="2.69" ry="1.34" transform="rotate(15 1060.5 344)"/><ellipse cx="1063" cy="346.5" rx="1.12" ry="1.79"/><ellipse cx="1241.7" cy="216.5" rx="1.34" ry="1.34"/><ellipse cx="1246.7" cy="216.5" rx="1.34" ry="1.34"/><ellipse cx="1252.5" cy="216.5" rx="1.34" ry="1.34"/><ellipse cx="1249.5" cy="221.5" rx="1.57" ry="1.57"/><ellipse cx="1391.7" cy="284.8" rx="1.57" ry="1.57"/><ellipse cx="1405.8" cy="287.3" rx="2.02" ry="1.34"/><ellipse cx="1242.5" cy="309.5" rx="2.46" ry="1.23" transform="rotate(-30 1242.5 309.5)"/><ellipse cx="1358.3" cy="320.7" rx="1.57" ry="1.79"/><ellipse cx="1335.8" cy="347.3" rx="2.02" ry="2.46"/><ellipse cx="1340.8" cy="345.7" rx="2.02" ry="1.79"/><ellipse cx="1160.4" cy="193.7" rx="2.69" ry="1.34" transform="rotate(-40 1160.4 193.7)"/><ellipse cx="1214.9" cy="197.6" rx="1.57" ry="1.57"/><ellipse cx="1230.2" cy="203.2" rx="1.46" ry="1.46"/><ellipse cx="1213.7" cy="203.5" rx="1.12" ry="1.12"/><ellipse cx="1253.5" cy="147.5" rx="1.57" ry="1.12"/><ellipse cx="1151.8" cy="228.6" rx="1.23" ry="1.23"/><ellipse cx="877.2" cy="427.3" rx="1.46" ry="1.79"/><ellipse cx="917.3" cy="429" rx="1.79" ry="1.68"/><ellipse cx="922.3" cy="434" rx="1.46" ry="2.91" transform="rotate(-10 922.3 434)"/><ellipse cx="881.3" cy="438.5" rx="1.01" ry="1.01"/><ellipse cx="953.8" cy="462.3" rx="1.57" ry="1.12"/><ellipse cx="953.5" cy="474.3" rx="1.57" ry="1.57"/><ellipse cx="977.7" cy="476" rx="1.57" ry="1.57"/><ellipse cx="896.8" cy="518.5" rx="1.12" ry="1.46"/><ellipse cx="1015.7" cy="529.7" rx="2.24" ry="1.46"/><ellipse cx="1019" cy="536.5" rx="1.79" ry="1.46"/><ellipse cx="966.8" cy="546" rx="1.57" ry="1.57"/><ellipse cx="995.5" cy="555.7" rx="2.02" ry="2.24"/><ellipse cx="874.3" cy="575.2" rx="1.57" ry="1.34"/><ellipse cx="1038.5" cy="502.7" rx="1.68" ry="1.34"/><ellipse cx="981" cy="416.5" rx="1.12" ry="1.12"/><ellipse cx="1048" cy="431.8" rx="1.79" ry="1.79"/><ellipse cx="1065.5" cy="426.8" rx="1.79" ry="1.79"/><ellipse cx="1072.2" cy="525.2" rx="2.02" ry="1.68"/><ellipse cx="1089.7" cy="518.5" rx="1.68" ry="2.24"/><ellipse cx="1136.3" cy="506.8" rx="1.57" ry="2.69"/><ellipse cx="1133" cy="519.8" rx="1.68" ry="1.79"/><ellipse cx="1142.2" cy="515.7" rx="1.57" ry="1.57"/><ellipse cx="1162.2" cy="526.8" rx="1.57" ry="1.68"/><ellipse cx="1162.2" cy="532.7" rx="1.46" ry="1.57"/><ellipse cx="1145.5" cy="538" rx="1.57" ry="2.02"/><ellipse cx="1212.2" cy="564" rx="1.68" ry="1.79"/><ellipse cx="1170.5" cy="572.3" rx="2.91" ry="1.68" transform="rotate(-25 1170.5 572.3)"/><ellipse cx="1136.3" cy="574.3" rx="1.46" ry="2.02"/><ellipse cx="1144" cy="429.2" rx="1.68" ry="1.46"/><ellipse cx="1355.8" cy="391" rx="1.34" ry="2.02"/><ellipse cx="1347" cy="441" rx="1.46" ry="1.57"/><ellipse cx="1347.2" cy="451.8" rx="1.46" ry="1.57"/><ellipse cx="1363.3" cy="477.3" rx="2.02" ry="1.46" transform="rotate(35 1363.3 477.3)"/><ellipse cx="1420" cy="473.5" rx="1.57" ry="1.46"/><ellipse cx="1255.8" cy="504.7" rx="1.57" ry="1.34"/><ellipse cx="1255" cy="509.3" rx="1.34" ry="1.23"/><ellipse cx="1259.2" cy="510.7" rx="1.57" ry="1.23"/><ellipse cx="1267.5" cy="524.3" rx="1.79" ry="1.57"/><ellipse cx="1246.7" cy="538.5" rx="1.57" ry="1.57"/><ellipse cx="1348.3" cy="525.2" rx="1.23" ry="2.91" transform="rotate(30 1348.3 525.2)"/><ellipse cx="1344.7" cy="546.8" rx="1.23" ry="2.24"/><ellipse cx="1260" cy="386.5" rx="2.02" ry="1.34"/><ellipse cx="1140.5" cy="528" rx="1.12" ry="1.12"/></g>
</g>
</defs>
<rect width="1724" height="1176" fill="#fff"/>
<g transform="translate(-589.4 0)">
<g stroke="#14140a" stroke-opacity="0.7" stroke-width="1.25">
<rect x="848.8" y="5" width="287.2" height="288.6" fill="#fdf2ea"/>
<rect x="1136" y="5" width="288.4" height="288.6" fill="#fadfc5"/>
<rect x="848.8" y="293.6" width="95.9" height="94.9" fill="#fdf2ea"/>
<rect x="944.7" y="293.6" width="95.5" height="94.9" fill="#fadfc5"/>
<rect x="1040.2" y="293.6" width="95.8" height="94.9" fill="#fadfc5"/>
<rect x="1136" y="293.6" width="95.9" height="94.9" fill="#fadfc5"/>
<rect x="1231.9" y="293.6" width="95.7" height="94.9" fill="#ec6a30"/>
<rect x="1327.6" y="293.6" width="96.8" height="94.9" fill="#ec6a30"/>
<rect x="848.8" y="388.5" width="95.9" height="95.7" fill="#fdf2ea"/>
<rect x="944.7" y="388.5" width="95.5" height="95.7" fill="#f1954a"/>
<rect x="1040.2" y="388.5" width="95.8" height="95.7" fill="#f1954a"/>
<rect x="1327.6" y="388.5" width="96.8" height="95.7" fill="#f1954a"/>
<rect x="848.8" y="484.2" width="95.9" height="96.8" fill="#fdf2ea"/>
<rect x="944.7" y="484.2" width="95.5" height="96.8" fill="#f7c190"/>
<rect x="1040.2" y="484.2" width="95.8" height="96.8" fill="#ec6a30"/>
<rect x="1136" y="484.2" width="95.9" height="96.8" fill="#f7c190"/>
<rect x="1231.9" y="484.2" width="95.7" height="96.8" fill="#f7c190"/>
<rect x="1327.6" y="484.2" width="96.8" height="96.8" fill="#f7c190"/>
<rect x="1136" y="388.5" width="47.9" height="47.9" fill="#f7c190"/>
<rect x="1279.8" y="388.5" width="47.9" height="47.9" fill="#f1954a"/>
<rect x="1279.8" y="436.4" width="47.9" height="47.8" fill="#f7c190"/>
<rect x="1183.9" y="388.5" width="24" height="23.9" fill="#f7c190"/>
<rect x="1207.9" y="388.5" width="24" height="23.9" fill="#f1954a"/>
<rect x="1231.8" y="388.5" width="24" height="23.9" fill="#ec6a30"/>
<rect x="1255.8" y="388.5" width="24" height="23.9" fill="#c84723"/>
<rect x="1183.9" y="412.4" width="24" height="23.9" fill="#ec6a30"/>
<rect x="1207.9" y="412.4" width="24" height="23.9" fill="#c84723"/>
<rect x="1231.8" y="412.4" width="24" height="23.9" fill="#c84723"/>
<rect x="1255.8" y="412.4" width="24" height="23.9" fill="#ec6a30"/>
<rect x="1136" y="436.4" width="24" height="23.9" fill="#ec6a30"/>
<rect x="1160" y="436.4" width="24" height="23.9" fill="#c84723"/>
<rect x="1183.9" y="436.4" width="24" height="23.9" fill="#8b2b14"/>
<rect x="1207.9" y="436.4" width="24" height="23.9" fill="#8b2b14"/>
<rect x="1231.8" y="436.4" width="24" height="23.9" fill="#c84723"/>
<rect x="1255.8" y="436.4" width="24" height="23.9" fill="#f1954a"/>
<rect x="1136" y="460.3" width="24" height="23.9" fill="#f1954a"/>
<rect x="1160" y="460.3" width="24" height="23.9" fill="#ec6a30"/>
<rect x="1183.9" y="460.3" width="24" height="23.9" fill="#c84723"/>
<rect x="1207.9" y="460.3" width="24" height="23.9" fill="#ec6a30"/>
<rect x="1231.8" y="460.3" width="24" height="23.9" fill="#f1954a"/>
<rect x="1255.8" y="460.3" width="24" height="23.9" fill="#f7c190"/>
</g>
<use href="#map"/>
<path d="M848.8 7.6H1424.4" stroke="#14140a" stroke-opacity="0.75" stroke-width="1" fill="none"/>
</g>
<rect x="259.4" y="4.9" width="575.4" height="576" fill="none" stroke="#0a0a0a" stroke-width="3.2" stroke-linejoin="round"/>
<g transform="translate(0 0)">
<g stroke="#14140a" stroke-opacity="0.7" stroke-width="1.25">
<rect x="848.8" y="5" width="287.2" height="288.6" fill="#ffffcf"/>
<rect x="1136" y="5" width="288.4" height="288.6" fill="#ffffcf"/>
<rect x="848.8" y="293.6" width="95.9" height="94.9" fill="#ffffcf"/>
<rect x="944.7" y="293.6" width="95.5" height="94.9" fill="#ffffcf"/>
<rect x="1040.2" y="293.6" width="95.8" height="94.9" fill="#ffffcf"/>
<rect x="1136" y="293.6" width="95.9" height="94.9" fill="#ffffcf"/>
<rect x="1231.9" y="293.6" width="95.7" height="94.9" fill="#cbe9bf"/>
<rect x="1327.6" y="293.6" width="96.8" height="94.9" fill="#cbe9bf"/>
<rect x="848.8" y="388.5" width="95.9" height="95.7" fill="#ffffcf"/>
<rect x="944.7" y="388.5" width="95.5" height="95.7" fill="#ffffcf"/>
<rect x="1040.2" y="388.5" width="95.8" height="95.7" fill="#cbe9bf"/>
<rect x="1327.6" y="388.5" width="96.8" height="95.7" fill="#cbe9bf"/>
<rect x="848.8" y="484.2" width="95.9" height="96.8" fill="#ffffcf"/>
<rect x="944.7" y="484.2" width="95.5" height="96.8" fill="#ffffcf"/>
<rect x="1040.2" y="484.2" width="95.8" height="96.8" fill="#cbe9bf"/>
<rect x="1136" y="484.2" width="95.9" height="96.8" fill="#cbe9bf"/>
<rect x="1231.9" y="484.2" width="95.7" height="96.8" fill="#cbe9bf"/>
<rect x="1327.6" y="484.2" width="96.8" height="96.8" fill="#ffffcf"/>
<rect x="1136" y="388.5" width="47.9" height="47.9" fill="#cbe9bf"/>
<rect x="1279.8" y="388.5" width="47.9" height="47.9" fill="#cbe9bf"/>
<rect x="1279.8" y="436.4" width="47.9" height="47.8" fill="#cbe9bf"/>
<rect x="1183.9" y="388.5" width="24" height="23.9" fill="#cbe9bf"/>
<rect x="1207.9" y="388.5" width="24" height="23.9" fill="#cbe9bf"/>
<rect x="1231.8" y="388.5" width="24" height="23.9" fill="#cbe9bf"/>
<rect x="1255.8" y="388.5" width="24" height="23.9" fill="#cbe9bf"/>
<rect x="1183.9" y="412.4" width="24" height="23.9" fill="#cbe9bf"/>
<rect x="1207.9" y="412.4" width="24" height="23.9" fill="#cbe9bf"/>
<rect x="1231.8" y="412.4" width="24" height="23.9" fill="#cbe9bf"/>
<rect x="1255.8" y="412.4" width="24" height="23.9" fill="#cbe9bf"/>
<rect x="1136" y="436.4" width="24" height="23.9" fill="#cbe9bf"/>
<rect x="1160" y="436.4" width="24" height="23.9" fill="#cbe9bf"/>
<rect x="1183.9" y="436.4" width="24" height="23.9" fill="#cbe9bf"/>
<rect x="1207.9" y="436.4" width="24" height="23.9" fill="#cbe9bf"/>
<rect x="1231.8" y="436.4" width="24" height="23.9" fill="#cbe9bf"/>
<rect x="1255.8" y="436.4" width="24" height="23.9" fill="#cbe9bf"/>
<rect x="1136" y="460.3" width="24" height="23.9" fill="#cbe9bf"/>
<rect x="1160" y="460.3" width="24" height="23.9" fill="#cbe9bf"/>
<rect x="1183.9" y="460.3" width="24" height="23.9" fill="#cbe9bf"/>
<rect x="1207.9" y="460.3" width="24" height="23.9" fill="#cbe9bf"/>
<rect x="1231.8" y="460.3" width="24" height="23.9" fill="#cbe9bf"/>
<rect x="1255.8" y="460.3" width="24" height="23.9" fill="#cbe9bf"/>
</g>
<use href="#map"/>
<path d="M848.8 7.6H1424.4" stroke="#14140a" stroke-opacity="0.75" stroke-width="1" fill="none"/>
</g>
<rect x="848.9" y="4.9" width="575.6" height="576" fill="none" stroke="#0a0a0a" stroke-width="3.2" stroke-linejoin="round"/>
<g transform="translate(-589.4 589.8)">
<g stroke="#14140a" stroke-opacity="0.7" stroke-width="1.25">
<rect x="848.8" y="5" width="287.2" height="288.6" fill="#ffffcf"/>
<rect x="1136" y="5" width="288.4" height="288.6" fill="#cbe9bf"/>
<rect x="848.8" y="293.6" width="95.9" height="94.9" fill="#ffffcf"/>
<rect x="944.7" y="293.6" width="95.5" height="94.9" fill="#cbe9bf"/>
<rect x="1040.2" y="293.6" width="95.8" height="94.9" fill="#cbe9bf"/>
<rect x="1136" y="293.6" width="95.9" height="94.9" fill="#cbe9bf"/>
<rect x="1231.9" y="293.6" width="95.7" height="94.9" fill="#62c1c5"/>
<rect x="1327.6" y="293.6" width="96.8" height="94.9" fill="#62c1c5"/>
<rect x="848.8" y="388.5" width="95.9" height="95.7" fill="#cbe9bf"/>
<rect x="944.7" y="388.5" width="95.5" height="95.7" fill="#98d6bb"/>
<rect x="1040.2" y="388.5" width="95.8" height="95.7" fill="#98d6bb"/>
<rect x="1327.6" y="388.5" width="96.8" height="95.7" fill="#98d6bb"/>
<rect x="848.8" y="484.2" width="95.9" height="96.8" fill="#ffffcf"/>
<rect x="944.7" y="484.2" width="95.5" height="96.8" fill="#98d6bb"/>
<rect x="1040.2" y="484.2" width="95.8" height="96.8" fill="#98d6bb"/>
<rect x="1136" y="484.2" width="95.9" height="96.8" fill="#98d6bb"/>
<rect x="1231.9" y="484.2" width="95.7" height="96.8" fill="#98d6bb"/>
<rect x="1327.6" y="484.2" width="96.8" height="96.8" fill="#98d6bb"/>
<rect x="1136" y="388.5" width="47.9" height="47.9" fill="#98d6bb"/>
<rect x="1279.8" y="388.5" width="47.9" height="47.9" fill="#98d6bb"/>
<rect x="1279.8" y="436.4" width="47.9" height="47.8" fill="#98d6bb"/>
<rect x="1183.9" y="388.5" width="24" height="23.9" fill="#98d6bb"/>
<rect x="1207.9" y="388.5" width="24" height="23.9" fill="#62c1c5"/>
<rect x="1231.8" y="388.5" width="24" height="23.9" fill="#62c1c5"/>
<rect x="1255.8" y="388.5" width="24" height="23.9" fill="#62c1c5"/>
<rect x="1183.9" y="412.4" width="24" height="23.9" fill="#62c1c5"/>
<rect x="1207.9" y="412.4" width="24" height="23.9" fill="#62c1c5"/>
<rect x="1231.8" y="412.4" width="24" height="23.9" fill="#4ca5c9"/>
<rect x="1255.8" y="412.4" width="24" height="23.9" fill="#62c1c5"/>
<rect x="1136" y="436.4" width="24" height="23.9" fill="#62c1c5"/>
<rect x="1160" y="436.4" width="24" height="23.9" fill="#62c1c5"/>
<rect x="1183.9" y="436.4" width="24" height="23.9" fill="#62c1c5"/>
<rect x="1207.9" y="436.4" width="24" height="23.9" fill="#4ca5c9"/>
<rect x="1231.8" y="436.4" width="24" height="23.9" fill="#62c1c5"/>
<rect x="1255.8" y="436.4" width="24" height="23.9" fill="#62c1c5"/>
<rect x="1136" y="460.3" width="24" height="23.9" fill="#98d6bb"/>
<rect x="1160" y="460.3" width="24" height="23.9" fill="#62c1c5"/>
<rect x="1183.9" y="460.3" width="24" height="23.9" fill="#62c1c5"/>
<rect x="1207.9" y="460.3" width="24" height="23.9" fill="#62c1c5"/>
<rect x="1231.8" y="460.3" width="24" height="23.9" fill="#62c1c5"/>
<rect x="1255.8" y="460.3" width="24" height="23.9" fill="#98d6bb"/>
</g>
<use href="#map"/>
<path d="M848.8 7.6H1424.4" stroke="#14140a" stroke-opacity="0.75" stroke-width="1" fill="none"/>
</g>
<rect x="259.4" y="594.4" width="575.4" height="575.6" fill="none" stroke="#0a0a0a" stroke-width="3.2" stroke-linejoin="round"/>
<g transform="translate(0 589.8)">
<g stroke="#14140a" stroke-opacity="0.7" stroke-width="1.25">
<rect x="848.8" y="5" width="287.2" height="288.6" fill="#98d6bb"/>
<rect x="1136" y="5" width="288.4" height="288.6" fill="#62c1c5"/>
<rect x="848.8" y="293.6" width="95.9" height="94.9" fill="#cbe9bf"/>
<rect x="944.7" y="293.6" width="95.5" height="94.9" fill="#62c1c5"/>
<rect x="1040.2" y="293.6" width="95.8" height="94.9" fill="#62c1c5"/>
<rect x="1136" y="293.6" width="95.9" height="94.9" fill="#4ca5c9"/>
<rect x="1231.9" y="293.6" width="95.7" height="94.9" fill="#2f62ae"/>
<rect x="1327.6" y="293.6" width="96.8" height="94.9" fill="#2f62ae"/>
<rect x="848.8" y="388.5" width="95.9" height="95.7" fill="#98d6bb"/>
<rect x="944.7" y="388.5" width="95.5" height="95.7" fill="#4ca5c9"/>
<rect x="1040.2" y="388.5" width="95.8" height="95.7" fill="#3e88c0"/>
<rect x="1327.6" y="388.5" width="96.8" height="95.7" fill="#3e88c0"/>
<rect x="848.8" y="484.2" width="95.9" height="96.8" fill="#98d6bb"/>
<rect x="944.7" y="484.2" width="95.5" height="96.8" fill="#4ca5c9"/>
<rect x="1040.2" y="484.2" width="95.8" height="96.8" fill="#3e88c0"/>
<rect x="1136" y="484.2" width="95.9" height="96.8" fill="#2f62ae"/>
<rect x="1231.9" y="484.2" width="95.7" height="96.8" fill="#3e88c0"/>
<rect x="1327.6" y="484.2" width="96.8" height="96.8" fill="#4ca5c9"/>
<rect x="1136" y="388.5" width="47.9" height="47.9" fill="#3e88c0"/>
<rect x="1279.8" y="388.5" width="47.9" height="47.9" fill="#2f62ae"/>
<rect x="1279.8" y="436.4" width="47.9" height="47.8" fill="#3e88c0"/>
<rect x="1183.9" y="388.5" width="24" height="23.9" fill="#62c1c5"/>
<rect x="1207.9" y="388.5" width="24" height="23.9" fill="#2f62ae"/>
<rect x="1231.8" y="388.5" width="24" height="23.9" fill="#28399c"/>
<rect x="1255.8" y="388.5" width="24" height="23.9" fill="#28399c"/>
<rect x="1183.9" y="412.4" width="24" height="23.9" fill="#2f62ae"/>
<rect x="1207.9" y="412.4" width="24" height="23.9" fill="#28399c"/>
<rect x="1231.8" y="412.4" width="24" height="23.9" fill="#28399c"/>
<rect x="1255.8" y="412.4" width="24" height="23.9" fill="#28399c"/>
<rect x="1136" y="436.4" width="24" height="23.9" fill="#2f62ae"/>
<rect x="1160" y="436.4" width="24" height="23.9" fill="#28399c"/>
<rect x="1183.9" y="436.4" width="24" height="23.9" fill="#28399c"/>
<rect x="1207.9" y="436.4" width="24" height="23.9" fill="#28399c"/>
<rect x="1231.8" y="436.4" width="24" height="23.9" fill="#28399c"/>
<rect x="1255.8" y="436.4" width="24" height="23.9" fill="#28399c"/>
<rect x="1136" y="460.3" width="24" height="23.9" fill="#3e88c0"/>
<rect x="1160" y="460.3" width="24" height="23.9" fill="#2f62ae"/>
<rect x="1183.9" y="460.3" width="24" height="23.9" fill="#28399c"/>
<rect x="1207.9" y="460.3" width="24" height="23.9" fill="#28399c"/>
<rect x="1231.8" y="460.3" width="24" height="23.9" fill="#2f62ae"/>
<rect x="1255.8" y="460.3" width="24" height="23.9" fill="#2f62ae"/>
</g>
<use href="#map"/>
<path d="M848.8 7.6H1424.4" stroke="#14140a" stroke-opacity="0.75" stroke-width="1" fill="none"/>
</g>
<rect x="848.9" y="594.4" width="575.6" height="575.6" fill="none" stroke="#0a0a0a" stroke-width="3.2" stroke-linejoin="round"/>
<rect x="7" y="178.5" width="66" height="39.6" fill="#fdf2ea" stroke="#151515" stroke-width="1.9" stroke-linejoin="round"/>
<rect x="7" y="240.6" width="66" height="39.6" fill="#fadfc5" stroke="#151515" stroke-width="1.9" stroke-linejoin="round"/>
<rect x="7" y="302.7" width="66" height="39.6" fill="#f7c190" stroke="#151515" stroke-width="1.9" stroke-linejoin="round"/>
<rect x="7" y="364.8" width="66" height="39.6" fill="#f1954a" stroke="#151515" stroke-width="1.9" stroke-linejoin="round"/>
<rect x="7" y="426.9" width="66" height="39.6" fill="#ec6a30" stroke="#151515" stroke-width="1.9" stroke-linejoin="round"/>
<rect x="7" y="489" width="66" height="39.6" fill="#c84723" stroke="#151515" stroke-width="1.9" stroke-linejoin="round"/>
<rect x="7" y="551.1" width="66" height="39.6" fill="#8b2b14" stroke="#151515" stroke-width="1.9" stroke-linejoin="round"/>
<rect x="1471.5" y="172.8" width="58" height="34" fill="#ffffcf" stroke="#151515" stroke-width="1.9" stroke-linejoin="round"/>
<rect x="1471.5" y="227.6" width="58" height="34" fill="#cbe9bf" stroke="#151515" stroke-width="1.9" stroke-linejoin="round"/>
<rect x="1471.5" y="282.4" width="58" height="34" fill="#98d6bb" stroke="#151515" stroke-width="1.9" stroke-linejoin="round"/>
<rect x="1471.5" y="337.2" width="58" height="34" fill="#62c1c5" stroke="#151515" stroke-width="1.9" stroke-linejoin="round"/>
<rect x="1471.5" y="392" width="58" height="34" fill="#4ca5c9" stroke="#151515" stroke-width="1.9" stroke-linejoin="round"/>
<rect x="1471.5" y="446.8" width="58" height="34" fill="#3e88c0" stroke="#151515" stroke-width="1.9" stroke-linejoin="round"/>
<rect x="1471.5" y="501.6" width="58" height="34" fill="#2f62ae" stroke="#151515" stroke-width="1.9" stroke-linejoin="round"/>
<rect x="1471.5" y="556.4" width="58" height="34" fill="#28399c" stroke="#151515" stroke-width="1.9" stroke-linejoin="round"/>
<path d="M1466.7 669.5H1529" stroke="#e83cc4" stroke-width="4.6" fill="none"/>
<g class="panel-labels"><text transform="translate(271.65 58.0) scale(0.9563 1)" font-size="50.35" font-weight="bold" stroke="#000" stroke-width="0.5" stroke-linejoin="round">A</text> <text transform="translate(860.24 58.4) scale(0.8267 1)" font-size="51.48" font-weight="bold" stroke="#000" stroke-width="0.5" stroke-linejoin="round">B</text> <text transform="translate(274.43 649.61) scale(0.7994 1)" font-size="50.64" font-weight="bold" stroke="#000" stroke-width="0.5" stroke-linejoin="round">C</text> <text transform="translate(865.81 649.7) scale(0.9475 1)" font-size="50.49" font-weight="bold" stroke="#000" stroke-width="0.5" stroke-linejoin="round">D</text></g>
<g class="legend-title"><text transform="translate(1.25 150.0) scale(1.0469 1)" font-size="35.98" font-weight="bold" stroke="#000" stroke-width="0.5" stroke-linejoin="round">PM</text><text transform="translate(60.82 157.15) scale(1.1318 1)" font-size="22.12" font-weight="bold" stroke="#000" stroke-width="0.9" stroke-linejoin="round">2.5</text> <text transform="translate(106.14 149.15) scale(1.0649 1)" font-size="37.25" font-weight="bold" stroke="#000" stroke-width="0.5" stroke-linejoin="round">(µg/m</text><text transform="translate(213.32 137.68) scale(0.8879 1)" font-size="20.31" font-weight="bold" stroke="#000" stroke-width="0.9" stroke-linejoin="round">3</text><text transform="translate(230.6 149.15) scale(0.7145 1)" font-size="37.25" font-weight="bold" stroke="#000" stroke-width="0.5" stroke-linejoin="round">)</text></g>
<g class="legend-labels"><text transform="translate(92.51 212.77) scale(1.0207 1)" font-size="40.35" stroke="#000" stroke-width="0.8" stroke-linejoin="round">5.5 - 6</text> <text transform="translate(91.86 274.82) scale(1.0265 1)" font-size="40.35" stroke="#000" stroke-width="0.8" stroke-linejoin="round">6 - 6.5</text> <text transform="translate(91.39 336.87) scale(1.0076 1)" font-size="40.35" stroke="#000" stroke-width="0.8" stroke-linejoin="round">6.5 - 7</text> <text transform="translate(90.95 398.92) scale(0.9796 1)" font-size="40.35" stroke="#000" stroke-width="0.8" stroke-linejoin="round">7 - 7.5</text> <text transform="translate(90.94 460.97) scale(0.9841 1)" font-size="40.35" stroke="#000" stroke-width="0.8" stroke-linejoin="round">7.5 - 8</text> <text transform="translate(92.48 523.02) scale(1.0432 1)" font-size="40.35" stroke="#000" stroke-width="0.8" stroke-linejoin="round">8 - 8.5</text> <text transform="translate(92.47 585.07) scale(1.0557 1)" font-size="40.35" stroke="#000" stroke-width="0.8" stroke-linejoin="round">8.5 - 9</text></g>
<g class="legend-title"><text transform="translate(1467.55 91.0) scale(1.0721 1)" font-size="36.55" font-weight="bold" stroke="#000" stroke-width="0.5" stroke-linejoin="round">PM</text><text transform="translate(1527.33 98.03) scale(1.0337 1)" font-size="23.93" font-weight="bold" stroke="#000" stroke-width="0.9" stroke-linejoin="round">2.5</text> <text transform="translate(1467.77 138.24) scale(0.9458 1)" font-size="37.77" font-weight="bold" stroke="#000" stroke-width="0.5" stroke-linejoin="round">Reduction (%)</text></g>
<g class="legend-labels"><text transform="translate(1557.32 205.25) scale(0.9857 1)" font-size="41.6" stroke="#000" stroke-width="0.8" stroke-linejoin="round">0.5 - 2</text> <text transform="translate(1557.79 260.45) scale(0.9816 1)" font-size="41.6" stroke="#000" stroke-width="0.8" stroke-linejoin="round">2 - 3.5</text> <text transform="translate(1558.33 315.65) scale(0.977 1)" font-size="41.6" stroke="#000" stroke-width="0.8" stroke-linejoin="round">3.5 - 5</text> <text transform="translate(1558.33 370.85) scale(0.977 1)" font-size="41.6" stroke="#000" stroke-width="0.8" stroke-linejoin="round">5 - 6.5</text> <text transform="translate(1557.67 426.05) scale(0.9921 1)" font-size="41.6" stroke="#000" stroke-width="0.8" stroke-linejoin="round">6.5 - 8</text> <text transform="translate(1558.33 481.25) scale(0.977 1)" font-size="41.6" stroke="#000" stroke-width="0.8" stroke-linejoin="round">8 - 9.5</text> <text transform="translate(1557.63 536.45) scale(1.0093 1)" font-size="41.6" stroke="#000" stroke-width="0.8" stroke-linejoin="round">9.5 - 11</text> <text transform="translate(1558.16 591.65) scale(1.0138 1)" font-size="41.6" stroke="#000" stroke-width="0.8" stroke-linejoin="round">11 - 13.7</text></g>
<g class="legend-labels"><text transform="translate(1555.87 657.9) scale(1.1348 1)" font-size="38.5" stroke="#000" stroke-width="0.8" stroke-linejoin="round">major</text> <text transform="translate(1564.3 712.7) scale(1.0799 1)" font-size="38.5" stroke="#000" stroke-width="0.8" stroke-linejoin="round">roads</text></g>
</svg>
</body></html>
